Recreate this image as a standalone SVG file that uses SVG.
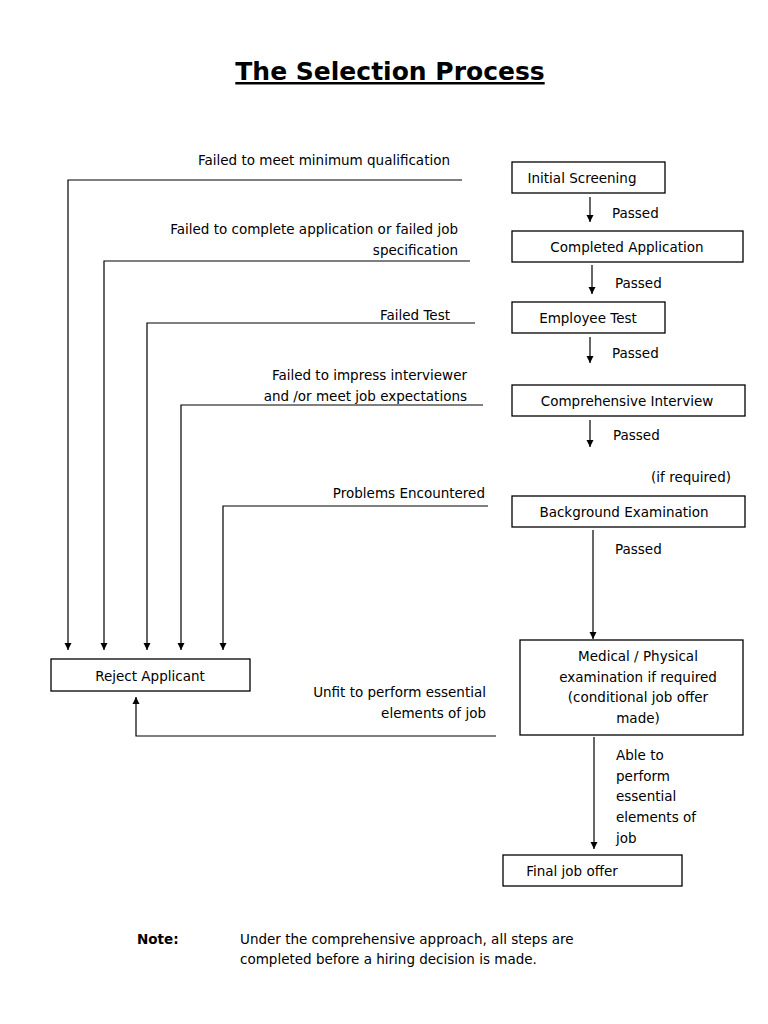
<svg xmlns="http://www.w3.org/2000/svg" width="768" height="1024" viewBox="0 0 768 1024">
<style>
text{font-family:"DejaVu Sans","Liberation Sans",sans-serif;font-size:13.5px;fill:#000}
.b{fill:#fff;stroke:#000;stroke-width:1.3}
.l{fill:none;stroke:#000;stroke-width:1.2}
.c{text-anchor:middle}.r{text-anchor:end}
</style>
<defs><marker id="a" viewBox="0 0 10 10" refX="10" refY="5" markerWidth="7" markerHeight="9" orient="auto" markerUnits="userSpaceOnUse"><path d="M0,0L10,5L0,10z" fill="#000"/></marker></defs>
<rect width="768" height="1024" fill="#fff"/>
<text x="390" y="80" class="c" style="font-size:25px;font-weight:bold;text-decoration:underline">The Selection Process</text>
<g id="n1"><rect class="b" x="512" y="162" width="153" height="31"/><text x="582" y="183" class="c">Initial Screening</text></g>
<g id="n2"><rect class="b" x="512" y="231" width="231" height="31"/><text x="627" y="252" class="c">Completed Application</text></g>
<g id="n3"><rect class="b" x="512" y="302" width="153" height="31"/><text x="588" y="323" class="c">Employee Test</text></g>
<g id="n4"><rect class="b" x="512" y="385" width="233" height="31"/><text x="627" y="406" class="c">Comprehensive Interview</text></g>
<g id="n5"><rect class="b" x="512" y="496" width="233" height="31"/><text x="624" y="517" class="c">Background Examination</text></g>
<g id="n6"><rect class="b" x="520" y="640" width="223" height="95"/><text class="c" x="638" y="661">Medical / Physical</text><text class="c" x="638" y="682">examination if required</text><text class="c" x="638" y="702">(conditional job offer</text><text class="c" x="638" y="723">made)</text></g>
<g id="n7"><rect class="b" x="503" y="855" width="179" height="31"/><text x="572" y="876" class="c">Final job offer</text></g>
<g id="n8"><rect class="b" x="51" y="659" width="199" height="32"/><text x="150" y="681" class="c">Reject Applicant</text></g>
<g id="connectors">
<path class="l" marker-end="url(#a)" d="M590,197V222"/>
<path class="l" marker-end="url(#a)" d="M592,265V294"/>
<path class="l" marker-end="url(#a)" d="M590,337V363"/>
<path class="l" marker-end="url(#a)" d="M590,420V447"/>
<path class="l" marker-end="url(#a)" d="M593,530V639"/>
<path class="l" marker-end="url(#a)" d="M594,737V849"/>
<path class="l" marker-end="url(#a)" d="M462,180H68V650"/>
<path class="l" marker-end="url(#a)" d="M470,261H104V650"/>
<path class="l" marker-end="url(#a)" d="M475,323H147V650"/>
<path class="l" marker-end="url(#a)" d="M483,405H181V650"/>
<path class="l" marker-end="url(#a)" d="M488,506H223V650"/>
<path class="l" marker-end="url(#a)" d="M496,736H136V697"/>
</g>
<g id="labels">
<text x="612" y="218">Passed</text>
<text x="615" y="288">Passed</text>
<text x="612" y="358">Passed</text>
<text x="613" y="440">Passed</text>
<text x="731" y="482" class="r">(if required)</text>
<text x="615" y="554">Passed</text>
<text x="450" y="165" class="r">Failed to meet minimum qualification</text>
<text x="458" y="234" class="r">Failed to complete application or failed job</text>
<text x="458" y="255" class="r">specification</text>
<text x="450" y="320" class="r">Failed Test</text>
<text x="467" y="380" class="r">Failed to impress interviewer</text>
<text x="467" y="401" class="r">and /or meet job expectations</text>
<text x="485" y="498" class="r">Problems Encountered</text>
<text x="486" y="697" class="r">Unfit to perform essential</text>
<text x="486" y="718" class="r">elements of job</text>
<text x="616" y="760">Able to</text>
<text x="616" y="781">perform</text>
<text x="616" y="801">essential</text>
<text x="616" y="822">elements of</text>
<text x="616" y="843">job</text>
<text x="137" y="944" style="font-weight:bold">Note:</text>
<text x="240" y="944">Under the comprehensive approach, all steps are</text>
<text x="240" y="964">completed before a hiring decision is made.</text>
</g>
</svg>
